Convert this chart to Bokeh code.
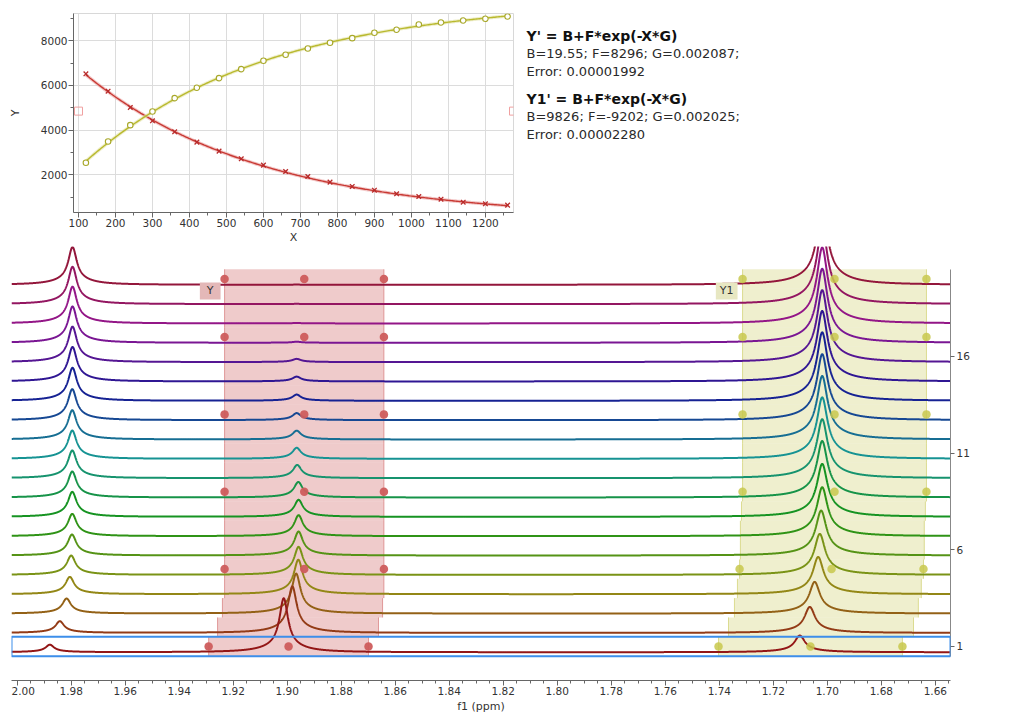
import colorsys
import numpy as np
from bokeh.plotting import figure
from bokeh.layouts import column, row
from bokeh.models import (Range1d, SingleIntervalTicker, FixedTicker, PrintfTickFormatter,
                          Label, BoxAnnotation, Spacer)
from bokeh.embed import file_html
from bokeh.resources import INLINE
from bokeh.core.properties import value

FONT = "DejaVu Sans"

# ---------------- kinetic data (integrals vs. time) ----------------
time_s = [120, 180, 240, 300, 360, 420, 480, 540, 600, 660,
          720, 780, 840, 900, 960, 1020, 1080, 1140, 1200, 1260]
y_integral = [6522, 5746, 5015, 4418, 3925, 3463, 3060, 2716, 2433, 2149,
              1925, 1672, 1478, 1313, 1149, 1030, 910, 776, 701, 642]
y1_integral = [2537, 3493, 4224, 4836, 5433, 5896, 6328, 6731, 7104, 7373,
               7657, 7910, 8119, 8358, 8493, 8731, 8821, 8910, 8985, 9090]

# exponential fits  Y' = B + F*exp(-X*G)
fit_y = {"B": 19.55, "F": 8296, "G": 0.002087, "err": "0.00001992"}
fit_y1 = {"B": 9826, "F": -9202, "G": 0.002025, "err": "0.00002280"}

cursor_x = [100, 1276]
cursor_y = [4851, 4851]

# ---------------- stacked 1H spectra (row 1 = first acquisition) ----------------
peak_a_ppm = [1.9879, 1.9842, 1.9817, 1.9805, 1.9800, 1.9797, 1.9796, 1.9796, 1.9796, 1.9796,
              1.9796, 1.9796, 1.9796, 1.9795, 1.9795, 1.9795, 1.9795, 1.9795, 1.9795, 1.9795]
peak_a_int = [7.5, 11.7, 15.0, 17.3, 19.3, 21.0, 22.3, 25.0, 26.0, 27.7,
              28.3, 29.3, 31.0, 33.0, 34.5, 35.5, 36.3, 36.8, 37.3, 37.7]

peak_y_ppm = [1.9013, 1.8981, 1.8967, 1.8959, 1.8958, 1.8958, 1.8958, 1.8958, 1.8959, 1.8963,
              1.8965, 1.8965, 1.8965, 1.8965, 1.8965, 1.8965, 1.8965, 1.8965, 1.8965, 1.8965]
peak_y_int = [54.0, 46.5, 40.0, 34.5, 28.0, 24.0, 21.0, 17.0, 15.5, 13.2,
              11.0, 8.8, 7.0, 6.2, 4.8, 3.2, 1.0, 0.4, 0.2, 0.1]

peak_y1_ppm = [1.7102, 1.7065, 1.7047, 1.7034, 1.7028, 1.7023, 1.7019, 1.7019, 1.7019, 1.7019,
               1.7019, 1.7019, 1.7019, 1.7019, 1.7019, 1.7019, 1.7019, 1.7019, 1.7019, 1.7019]
peak_y1_int = [16.7, 26.0, 31.7, 37.3, 41.0, 45.0, 49.0, 53.0, 56.5, 59.0,
               61.5, 63.5, 66.0, 68.5, 70.5, 72.0, 74.0, 76.0, 77.5, 79.0]

# integration regions per row (ppm)
y_region_left = [1.9291, 1.9258, 1.9240] + [1.9232] * 17
y_region_right = [1.8699, 1.8662, 1.8647] + [1.8642] * 17
y1_region_left = [1.7403, 1.7366, 1.7344, 1.7333, 1.7325, 1.7322, 1.7322, 1.7318] + [1.7314] * 12
y1_region_right = [1.6722, 1.6681, 1.6663, 1.6652, 1.6644, 1.6641, 1.6641, 1.6637] + [1.6633] * 12
marked_rows = [1, 5, 9, 13, 17, 20]

row_tick_labels = [1, 6, 11, 16]

X_LEFT, X_RIGHT = 2.0021, 1.6544
ROW_SCALE = 19.34          # intensity units per row of the stack
FWHM_A, FWHM_Y, FWHM_Y1 = 0.0037, 0.0037, 0.0045

RED = "#C83A34"
OLIVE = "#B9B92E"
SELECT = "#3D8EEA"


def style_axis(ax, size="10.5px"):
    ax.major_label_text_font = FONT
    ax.major_label_text_font_size = size
    ax.major_label_text_color = "#333333"
    ax.axis_label_text_font = FONT
    ax.axis_label_text_font_size = "11px"
    ax.axis_label_text_font_style = "normal"
    ax.axis_label_text_color = "#333333"
    ax.axis_line_color = "#666666"
    ax.major_tick_line_color = "#666666"
    ax.minor_tick_line_color = "#666666"
    ax.major_tick_in = 0
    ax.minor_tick_in = 0


# ---------------- inset: integrals vs time ----------------
inset = figure(width=520, height=246, x_range=Range1d(86.5, 1276), y_range=Range1d(312, 9222),
               output_backend="svg", toolbar_location=None,
               min_border_left=73, min_border_right=7, min_border_top=13, min_border_bottom=34)
inset.outline_line_color = "#D8D8D8"
inset.xgrid.grid_line_color = "#DCDCDC"
inset.ygrid.grid_line_color = "#DCDCDC"
inset.xaxis.ticker = SingleIntervalTicker(interval=100, num_minor_ticks=2)
inset.yaxis.ticker = SingleIntervalTicker(interval=2000, num_minor_ticks=2)
inset.xaxis.axis_label = "X"
inset.yaxis.axis_label = "Y"
for ax in (inset.xaxis[0], inset.yaxis[0]):
    style_axis(ax)
    ax.major_tick_out = 5
    ax.minor_tick_out = 3
    ax.major_label_standoff = 1
inset.xaxis.axis_label_standoff = 1
inset.yaxis.axis_label_standoff = 16

xs = np.linspace(time_s[0], time_s[-1], 300)
fy = fit_y["B"] + fit_y["F"] * np.exp(-xs * fit_y["G"])
fy1 = fit_y1["B"] + fit_y1["F"] * np.exp(-xs * fit_y1["G"])
inset.line(xs, fy, line_color="#EBA3A3", line_width=3.5, line_alpha=0.6)
inset.line(xs, fy, line_color=RED, line_width=1.4)
inset.line(xs, fy1, line_color="#E2E2A6", line_width=3.5, line_alpha=0.6)
inset.line(xs, fy1, line_color=OLIVE, line_width=1.4)
inset.scatter(time_s, y_integral, marker="x", size=6.5, line_color="#B82A2A", line_width=1.3)
inset.scatter(time_s, y1_integral, marker="circle", size=5.5, fill_color="white",
              line_color="#A8A82A", line_width=1.1)
inset.scatter(cursor_x, cursor_y, marker="square", size=8, fill_color=None,
              line_color="#F0A0A0", line_width=1)

# ---------------- fit results text (frame shares the inset's vertical extent) ----------------
tf = figure(width=504, height=246, x_range=Range1d(0, 504), y_range=Range1d(212, 13),
            output_backend="svg", toolbar_location=None,
            min_border_left=0, min_border_right=0, min_border_top=13, min_border_bottom=34)
tf.axis.visible = False
tf.grid.visible = False
tf.outline_line_color = None

heads = ["Y' = B+F*exp(-X*G)", "Y1' = B+F*exp(-X*G)"]
bodies = []
for f in (fit_y, fit_y1):
    bodies.append([f"B={f['B']}; F={f['F']}; G={f['G']};", f"Error: {f['err']}"])
tf.text(x=[6, 6], y=[35, 98], text=heads, text_font=value(FONT), text_font_size="14px",
        text_font_style="bold", text_baseline="middle", text_color="#111111")
tf.text(x=[6, 6, 6, 6], y=[53, 71, 116, 134],
        text=[bodies[0][0], bodies[0][1], bodies[1][0], bodies[1][1]],
        text_font=value(FONT), text_font_size="13px", text_baseline="middle",
        text_color="#2A2A2A")

# ---------------- stacked spectra ----------------
main = figure(width=1013, height=475, x_range=Range1d(X_LEFT, X_RIGHT),
              y_range=Range1d(-0.76, 21.68), y_axis_location="right",
              output_backend="svg", toolbar_location=None,
              min_border_left=0, min_border_right=74, min_border_top=0, min_border_bottom=41)
main.grid.visible = False
main.outline_line_color = None

xa = main.xaxis[0]
style_axis(xa)
xa.ticker = SingleIntervalTicker(interval=0.02, num_minor_ticks=4)
xa.formatter = PrintfTickFormatter(format="%.2f")
xa.axis_label = "f1 (ppm)"
xa.major_tick_out = 5
xa.minor_tick_out = 3
xa.major_label_standoff = 1
xa.axis_label_standoff = 2

ya = main.yaxis[0]
style_axis(ya)
ya.ticker = FixedTicker(ticks=row_tick_labels, minor_ticks=[])
ya.bounds = (0.5, 20.5)
ya.major_tick_out = 4
ya.major_label_standoff = 2
ya.axis_line_color = "#888888"

rows = np.arange(1, len(time_s) + 1)

# integration bands
main.quad(left=y_region_left, right=y_region_right, bottom=rows - 0.5, top=rows + 0.5,
          fill_color="#CD5C5C", fill_alpha=0.32, line_color=None)
main.quad(left=y1_region_left, right=y1_region_right, bottom=rows - 0.5, top=rows + 0.5,
          fill_color="#C4C44A", fill_alpha=0.27, line_color=None)
for lefts, rights, col in ((y_region_left, y_region_right, "#CD5C5C"),
                           (y1_region_left, y1_region_right, "#C4C44A")):
    main.segment(x0=lefts, y0=rows - 0.5, x1=lefts, y1=rows + 0.5, line_color=col,
                 line_alpha=0.55, line_width=1)
    main.segment(x0=rights, y0=rows - 0.5, x1=rights, y1=rows + 0.5, line_color=col,
                 line_alpha=0.55, line_width=1)


def lorentz(x, x0, fwhm):
    g = fwhm / 2.0
    return g * g / ((x - x0) ** 2 + g * g)


def shape(x, x0, fwhm):
    return 0.85 * lorentz(x, x0, fwhm) + 0.15 * lorentz(x, x0, 4 * fwhm)


ppm = np.linspace(X_LEFT, X_RIGHT, 5000)
n = len(time_s)
for k in reversed(range(n)):
    hue = (k * 18.0) / 360.0
    r, g, b = colorsys.hsv_to_rgb(hue, 0.85, 0.58)
    color = "#%02x%02x%02x" % (int(r * 255), int(g * 255), int(b * 255))
    trace = (peak_a_int[k] * shape(ppm, peak_a_ppm[k], FWHM_A)
             + peak_y_int[k] * shape(ppm, peak_y_ppm[k], FWHM_Y)
             + peak_y1_int[k] * shape(ppm, peak_y1_ppm[k], FWHM_Y1))
    main.line(ppm, (k + 1 - 0.3) + trace / ROW_SCALE, line_color=color, line_width=2)

# region handles on selected rows
for lefts, rights, col, a in ((y_region_left, y_region_right, "#CD5C5C", 0.95),
                              (y1_region_left, y1_region_right, "#C8C84C", 0.85)):
    hx, hy = [], []
    for r_ in marked_rows:
        l_, rr = lefts[r_ - 1], rights[r_ - 1]
        hx += [l_, (l_ + rr) / 2.0, rr]
        hy += [r_, r_, r_]
    main.scatter(hx, hy, marker="circle", size=8.5, fill_color=col, fill_alpha=a, line_color=None)

main.add_layout(Label(x=y_region_left[-1], y=19.38, text="Y", x_offset=-4,
                      text_align="right", text_baseline="middle", text_font=FONT,
                      text_font_size="11px", text_color="#333333",
                      background_fill_color="#E4B8B8", padding=(7, 2)))
main.add_layout(Label(x=y1_region_left[-1], y=19.38, text="Y1", x_offset=-5,
                      text_align="right", text_baseline="middle", text_font=FONT,
                      text_font_size="11px", text_color="#333333",
                      background_fill_color="#E7E7C2", padding=(4, 2)))

# selected row
main.add_layout(BoxAnnotation(bottom=0.5, top=1.5, fill_alpha=0, line_color=SELECT,
                              line_alpha=1.0, line_width=2))

layout = column(row(inset, tf), row(Spacer(width=11, height=475), main))

with open("out.html", "w") as fh:
    fh.write(file_html(layout, INLINE))
